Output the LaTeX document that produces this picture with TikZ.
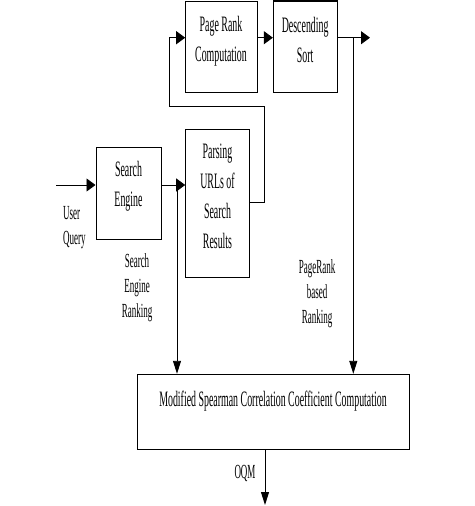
\documentclass[tikz,border=0pt]{standalone}
\usepackage{fontspec}
\setmainfont[FakeStretch=0.45]{Liberation Serif}
\usetikzlibrary{arrows.meta}

\tikzset{
  box/.style={draw, line width=1pt, inner sep=0pt},
  boxtext/.style={align=center, inner sep=0pt, font=\fontsize{22}{30}\selectfont},
  lbl/.style={align=center, inner sep=0pt, font=\fontsize{20}{25}\selectfont},
  harr/.style={-{Triangle[length=9pt,width=13pt]}, line width=0.9pt},
  varr/.style={-{Triangle[length=13pt,width=8pt]}, line width=0.9pt},
}

\begin{document}
\begin{tikzpicture}[x=1pt,y=-1pt]
\useasboundingbox (0,0) rectangle (474,506);

\node[box, minimum width=72pt, minimum height=91pt] (pr) at (221.7,46.6) {};
\node[box, minimum width=63.7pt, minimum height=91pt] (ds) at (305.2,46.5) {};
\node[box, minimum width=65pt, minimum height=92.3pt] (se) at (128.5,193.8) {};
\node[box, minimum width=63.6pt, minimum height=148.4pt] (pu) at (217.5,203.5) {};
\node[box, minimum width=272.7pt, minimum height=75pt] (ms) at (273.6,411.8) {};

\node[boxtext] (prtext) at (221,41.5) {Page Rank\\Computation};
\node[boxtext] (dstext) at (305.2,40) {Descending\\Sort};
\node[boxtext] (setext) at (128.5,186) {Search\\Engine};
\node[boxtext] (putext) at (217.5,196) {Parsing\\URLs of\\Search\\Results};
\node[boxtext] (mstext) at (273,401) {Modified Spearman Correlation Coefficient Computation};

\node[lbl, align=left, anchor=west] (uq) at (63,227.5) {User\\Query};
\node[lbl] (ser) at (137,287.5) {Search\\Engine\\Ranking};
\node[lbl] (pbr) at (317,294) {PageRank\\based\\Ranking};
\node[lbl] (oqm) at (245,473) {OQM};

\coordinate (query) at (56,185);
\coordinate (split) at (177,185);
\coordinate (back) at (264,106.7);
\coordinate (loop) at (169,37.7);
\coordinate (rank) at (353.3,37.7);
\coordinate (out) at (370,37.7);
\coordinate (oqmout) at (265,505);

\draw[harr] (query) -- (query -| se.west);
\draw[harr] (se.east |- query) -- (query -| pu.west);
\draw[varr] (split) -- (split |- ms.north);
\draw[harr] (pu.east |- 0,202.7) -| (back) -| (loop) -- (loop -| pr.west);
\draw[harr] (pr.east |- loop) -- (loop -| ds.west);
\draw[harr] (ds.east |- out) -- (out);
\draw[varr] (rank) -- (rank |- ms.north);
\draw[varr] (oqmout |- ms.south) -- (oqmout);
\end{tikzpicture}
\end{document}
